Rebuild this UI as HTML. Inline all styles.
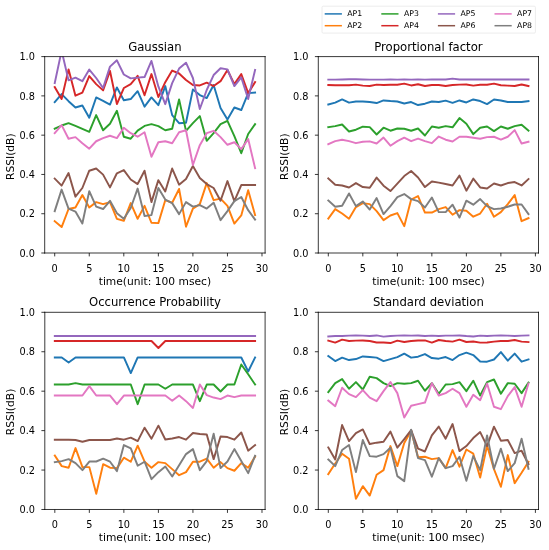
<!DOCTYPE html>
<html><head><meta charset="utf-8"><style>
html,body{margin:0;padding:0;background:#fff;width:549px;height:550px;overflow:hidden}
svg{display:block}
</style></head><body>
<svg width="549" height="550" viewBox="0 0 564.685714 565.714286" version="1.1"> <defs> <style type="text/css">*{stroke-linejoin: round; stroke-linecap: butt}</style> </defs> <g id="figure_1"> <g id="patch_1"> <path d="M 0 565.714286 L 564.685714 565.714286 L 564.685714 0 L 0 0 z " style="fill: #ffffff"/> </g> <g id="axes_1"> <g id="patch_2"> <path d="M 45.977143 260.228571 L 272.674286 260.228571 L 272.674286 58.217143 L 45.977143 58.217143 z " style="fill: #ffffff"/> </g> <g id="matplotlib.axis_1"> <g id="xtick_1"> <g id="line2d_1"> <g> <path d="M 0 0 L 0 3.5 " transform="translate(56.281558 260.228571)" style="stroke: #000000; stroke-width: 0.8"/> </g> </g> <g id="text_1"> <text style="font-size: 10px; font-family: 'DejaVu Sans', 'Liberation Sans', sans-serif; text-anchor: middle" x="56.281558" y="279.627009" transform="rotate(-0 56.281558 279.627009)">0</text> </g> </g> <g id="xtick_2"> <g id="line2d_2"> <g> <path d="M 0 0 L 0 3.5 " transform="translate(91.814026 260.228571)" style="stroke: #000000; stroke-width: 0.8"/> </g> </g> <g id="text_2"> <text style="font-size: 10px; font-family: 'DejaVu Sans', 'Liberation Sans', sans-serif; text-anchor: middle" x="91.814026" y="279.627009" transform="rotate(-0 91.814026 279.627009)">5</text> </g> </g> <g id="xtick_3"> <g id="line2d_3"> <g> <path d="M 0 0 L 0 3.5 " transform="translate(127.346494 260.228571)" style="stroke: #000000; stroke-width: 0.8"/> </g> </g> <g id="text_3"> <text style="font-size: 10px; font-family: 'DejaVu Sans', 'Liberation Sans', sans-serif; text-anchor: middle" x="127.346494" y="279.627009" transform="rotate(-0 127.346494 279.627009)">10</text> </g> </g> <g id="xtick_4"> <g id="line2d_4"> <g> <path d="M 0 0 L 0 3.5 " transform="translate(162.878961 260.228571)" style="stroke: #000000; stroke-width: 0.8"/> </g> </g> <g id="text_4"> <text style="font-size: 10px; font-family: 'DejaVu Sans', 'Liberation Sans', sans-serif; text-anchor: middle" x="162.878961" y="279.627009" transform="rotate(-0 162.878961 279.627009)">15</text> </g> </g> <g id="xtick_5"> <g id="line2d_5"> <g> <path d="M 0 0 L 0 3.5 " transform="translate(198.411429 260.228571)" style="stroke: #000000; stroke-width: 0.8"/> </g> </g> <g id="text_5"> <text style="font-size: 10px; font-family: 'DejaVu Sans', 'Liberation Sans', sans-serif; text-anchor: middle" x="198.411429" y="279.627009" transform="rotate(-0 198.411429 279.627009)">20</text> </g> </g> <g id="xtick_6"> <g id="line2d_6"> <g> <path d="M 0 0 L 0 3.5 " transform="translate(233.943896 260.228571)" style="stroke: #000000; stroke-width: 0.8"/> </g> </g> <g id="text_6"> <text style="font-size: 10px; font-family: 'DejaVu Sans', 'Liberation Sans', sans-serif; text-anchor: middle" x="233.943896" y="279.627009" transform="rotate(-0 233.943896 279.627009)">25</text> </g> </g> <g id="xtick_7"> <g id="line2d_7"> <g> <path d="M 0 0 L 0 3.5 " transform="translate(269.476364 260.228571)" style="stroke: #000000; stroke-width: 0.8"/> </g> </g> <g id="text_7"> <text style="font-size: 10px; font-family: 'DejaVu Sans', 'Liberation Sans', sans-serif; text-anchor: middle" x="269.476364" y="279.627009" transform="rotate(-0 269.476364 279.627009)">30</text> </g> </g> <g id="text_8"> <text style="font-size: 11px; font-family: 'DejaVu Sans', 'Liberation Sans', sans-serif; text-anchor: middle" x="159.325714" y="292.864978" transform="rotate(-0 159.325714 292.864978)">time(unit: 100 msec)</text> </g> </g> <g id="matplotlib.axis_2"> <g id="ytick_1"> <g id="line2d_8"> <g> <path d="M 0 0 L -3.5 0 " transform="translate(45.977143 260.228571)" style="stroke: #000000; stroke-width: 0.8"/> </g> </g> <g id="text_9"> <text style="font-size: 10px; font-family: 'DejaVu Sans', 'Liberation Sans', sans-serif; text-anchor: end" x="35.877143" y="264.02779" transform="rotate(-0 35.877143 264.02779)">0.0</text> </g> </g> <g id="ytick_2"> <g id="line2d_9"> <g> <path d="M 0 0 L -3.5 0 " transform="translate(45.977143 219.826286)" style="stroke: #000000; stroke-width: 0.8"/> </g> </g> <g id="text_10"> <text style="font-size: 10px; font-family: 'DejaVu Sans', 'Liberation Sans', sans-serif; text-anchor: end" x="35.877143" y="223.625504" transform="rotate(-0 35.877143 223.625504)">0.2</text> </g> </g> <g id="ytick_3"> <g id="line2d_10"> <g> <path d="M 0 0 L -3.5 0 " transform="translate(45.977143 179.424)" style="stroke: #000000; stroke-width: 0.8"/> </g> </g> <g id="text_11"> <text style="font-size: 10px; font-family: 'DejaVu Sans', 'Liberation Sans', sans-serif; text-anchor: end" x="35.877143" y="183.223219" transform="rotate(-0 35.877143 183.223219)">0.4</text> </g> </g> <g id="ytick_4"> <g id="line2d_11"> <g> <path d="M 0 0 L -3.5 0 " transform="translate(45.977143 139.021714)" style="stroke: #000000; stroke-width: 0.8"/> </g> </g> <g id="text_12"> <text style="font-size: 10px; font-family: 'DejaVu Sans', 'Liberation Sans', sans-serif; text-anchor: end" x="35.877143" y="142.820933" transform="rotate(-0 35.877143 142.820933)">0.6</text> </g> </g> <g id="ytick_5"> <g id="line2d_12"> <g> <path d="M 0 0 L -3.5 0 " transform="translate(45.977143 98.619429)" style="stroke: #000000; stroke-width: 0.8"/> </g> </g> <g id="text_13"> <text style="font-size: 10px; font-family: 'DejaVu Sans', 'Liberation Sans', sans-serif; text-anchor: end" x="35.877143" y="102.418647" transform="rotate(-0 35.877143 102.418647)">0.8</text> </g> </g> <g id="ytick_6"> <g id="line2d_13"> <g> <path d="M 0 0 L -3.5 0 " transform="translate(45.977143 58.217143)" style="stroke: #000000; stroke-width: 0.8"/> </g> </g> <g id="text_14"> <text style="font-size: 10px; font-family: 'DejaVu Sans', 'Liberation Sans', sans-serif; text-anchor: end" x="35.877143" y="62.016362" transform="rotate(-0 35.877143 62.016362)">1.0</text> </g> </g> <g id="text_15"> <text style="font-size: 11px; font-family: 'DejaVu Sans', 'Liberation Sans', sans-serif; text-anchor: middle" x="14.5092" y="161.1771" transform="rotate(-90 14.5092 161.1771)">RSSI(dB)</text> </g> </g> <g id="line2d_14"> <path d="M 56.281558 105.083794 L 63.388052 96.801326 L 70.494545 104.073737 L 77.601039 110.538103 L 84.707532 108.517989 L 91.814026 121.042697 L 98.920519 100.23552 L 106.027013 103.669714 L 113.133506 107.507931 L 120.24 89.932937 L 127.346494 103.06368 L 134.452987 101.851611 L 141.559481 93.771154 L 148.665974 109.730057 L 155.772468 100.23552 L 162.878961 108.113966 L 169.985455 88.518857 L 177.091948 118.416549 L 184.198442 126.699017 L 191.304935 126.294994 L 198.411429 91.953051 L 205.517922 97.811383 L 212.624416 100.841554 L 219.730909 87.5088 L 226.837403 111.144137 L 233.943896 122.8608 L 241.05039 110.538103 L 248.156883 113.164251 L 255.263377 95.791269 L 262.36987 95.185234 " clip-path="url(#p74ebb552d3)" style="fill: none; stroke: #1f77b4; stroke-width: 2; stroke-linecap: square"/> </g> <g id="line2d_15"> <path d="M 56.281558 227.50272 L 63.388052 233.563063 L 70.494545 214.978011 L 77.601039 213.36192 L 84.707532 200.6352 L 91.814026 213.36192 L 98.920519 207.907611 L 106.027013 209.927726 L 113.133506 207.907611 L 120.24 225.078583 L 127.346494 227.098697 L 134.452987 208.917669 L 141.559481 225.078583 L 148.665974 211.745829 L 155.772468 229.118811 L 162.878961 229.522834 L 169.985455 205.887497 L 177.091948 208.513646 L 184.198442 194.372846 L 191.304935 233.15904 L 198.411429 214.573989 L 205.517922 209.927726 L 212.624416 188.312503 L 219.730909 205.887497 L 226.837403 204.271406 L 233.943896 211.745829 L 241.05039 229.926857 L 248.156883 221.644389 L 255.263377 195.584914 L 262.36987 221.240366 " clip-path="url(#p74ebb552d3)" style="fill: none; stroke: #ff7f0e; stroke-width: 2; stroke-linecap: square"/> </g> <g id="line2d_16"> <path d="M 56.281558 132.355337 L 63.388052 129.123154 L 70.494545 126.699017 L 77.601039 129.527177 L 84.707532 132.557349 L 91.814026 135.58752 L 98.920519 118.416549 L 106.027013 133.971429 L 113.133506 127.305051 L 120.24 113.972297 L 127.346494 140.637806 L 134.452987 142.65792 L 141.559481 134.375451 L 148.665974 129.527177 L 155.772468 127.709074 L 162.878961 129.729189 L 169.985455 133.971429 L 177.091948 132.355337 L 184.198442 102.255634 L 191.304935 134.577463 L 198.411429 126.699017 L 205.517922 119.426606 L 212.624416 144.880046 L 219.730909 137.0016 L 226.837403 127.709074 L 233.943896 124.27488 L 241.05039 140.031771 L 248.156883 157.606766 L 255.263377 137.809646 L 262.36987 127.709074 " clip-path="url(#p74ebb552d3)" style="fill: none; stroke: #2ca02c; stroke-width: 2; stroke-linecap: square"/> </g> <g id="line2d_17"> <path d="M 56.281558 89.528914 L 63.388052 101.851611 L 70.494545 71.347886 L 77.601039 98.417417 L 84.707532 95.185234 L 91.814026 78.216274 L 98.920519 86.498743 L 106.027013 92.963109 L 113.133506 72.963977 L 120.24 107.103909 L 127.346494 90.538971 L 134.452987 86.498743 L 141.559481 78.014263 L 148.665974 98.013394 L 155.772468 76.19616 L 162.878961 99.831497 L 169.985455 84.478629 L 177.091948 72.559954 L 184.198442 75.590126 L 191.304935 82.256503 L 198.411429 87.5088 L 205.517922 87.912823 L 212.624416 85.084663 L 219.730909 88.518857 L 226.837403 83.468571 L 233.943896 71.95392 L 241.05039 86.498743 L 248.156883 76.19616 L 255.263377 95.791269 L 262.36987 84.478629 " clip-path="url(#p74ebb552d3)" style="fill: none; stroke: #d62728; stroke-width: 2; stroke-linecap: square"/> </g> <g id="line2d_18"> <path d="M 56.281558 85.488686 L 63.388052 52.1568 L 70.494545 82.660526 L 77.601039 79.832366 L 84.707532 83.468571 L 91.814026 71.549897 L 98.920519 80.236389 L 106.027013 90.538971 L 113.133506 68.519726 L 120.24 62.05536 L 127.346494 76.600183 L 134.452987 80.640411 L 141.559481 79.832366 L 148.665974 79.226331 L 155.772468 62.661394 L 162.878961 88.92288 L 169.985455 107.103909 L 177.091948 85.488686 L 184.198442 70.53984 L 191.304935 64.479497 L 198.411429 80.236389 L 205.517922 112.154194 L 212.624416 92.559086 L 219.730909 77.206217 L 226.837403 70.135817 L 233.943896 71.347886 L 241.05039 88.518857 L 248.156883 79.630354 L 255.263377 101.851611 L 262.36987 71.95392 " clip-path="url(#p74ebb552d3)" style="fill: none; stroke: #9467bd; stroke-width: 2; stroke-linecap: square"/> </g> <g id="line2d_19"> <path d="M 56.281558 183.66624 L 63.388052 190.938651 L 70.494545 178.00992 L 77.601039 202.251291 L 84.707532 193.362789 L 91.814026 175.585783 L 98.920519 173.363657 L 106.027013 179.626011 L 113.133506 192.756754 L 120.24 178.211931 L 127.346494 174.979749 L 134.452987 184.676297 L 141.559481 189.32256 L 148.665974 175.585783 L 155.772468 207.907611 L 162.878961 185.282331 L 169.985455 196.998994 L 177.091948 173.363657 L 184.198442 189.928594 L 191.304935 184.070263 L 198.411429 170.737509 L 205.517922 183.060206 L 212.624416 189.32256 L 219.730909 193.362789 L 226.837403 206.493531 L 233.943896 186.292389 L 241.05039 206.897554 L 248.156883 190.332617 L 255.263377 190.332617 L 262.36987 190.332617 " clip-path="url(#p74ebb552d3)" style="fill: none; stroke: #8c564b; stroke-width: 2; stroke-linecap: square"/> </g> <g id="line2d_20"> <path d="M 56.281558 137.0016 L 63.388052 128.719131 L 70.494545 142.65792 L 77.601039 141.041829 L 84.707532 147.304183 L 91.814026 152.960503 L 98.920519 145.284069 L 106.027013 142.051886 L 113.133506 139.627749 L 120.24 142.051886 L 127.346494 131.34528 L 134.452987 137.0016 L 141.559481 140.637806 L 148.665974 135.991543 L 155.772468 161.242971 L 162.878961 146.294126 L 169.985455 145.284069 L 177.091948 147.304183 L 184.198442 135.991543 L 191.304935 133.971429 L 198.411429 169.727451 L 205.517922 149.324297 L 212.624416 137.0016 L 219.730909 134.577463 L 226.837403 141.041829 L 233.943896 148.920274 L 241.05039 146.294126 L 248.156883 153.364526 L 255.263377 143.061943 L 262.36987 172.959634 " clip-path="url(#p74ebb552d3)" style="fill: none; stroke: #e377c2; stroke-width: 2; stroke-linecap: square"/> </g> <g id="line2d_21"> <path d="M 56.281558 217.200137 L 63.388052 194.97888 L 70.494545 214.573989 L 77.601039 217.60416 L 84.707532 229.926857 L 91.814026 196.594971 L 98.920519 212.553874 L 106.027013 214.978011 L 113.133506 206.493531 L 120.24 219.220251 L 127.346494 225.078583 L 134.452987 213.967954 L 141.559481 193.968823 L 148.665974 222.250423 L 155.772468 221.240366 L 162.878961 193.362789 L 169.985455 205.281463 L 177.091948 208.917669 L 184.198442 220.230309 L 191.304935 207.907611 L 198.411429 212.553874 L 205.517922 210.937783 L 212.624416 214.573989 L 219.730909 208.513646 L 226.837403 226.492663 L 233.943896 217.200137 L 241.05039 206.897554 L 248.156883 202.655314 L 255.263377 216.19008 L 262.36987 225.886629 " clip-path="url(#p74ebb552d3)" style="fill: none; stroke: #7f7f7f; stroke-width: 2; stroke-linecap: square"/> </g> <g id="patch_3"> <path d="M 45.977143 260.228571 L 45.977143 58.217143 " style="fill: none; stroke: #000000; stroke-width: 0.8; stroke-linejoin: miter; stroke-linecap: square"/> </g> <g id="patch_4"> <path d="M 272.674286 260.228571 L 272.674286 58.217143 " style="fill: none; stroke: #000000; stroke-width: 0.8; stroke-linejoin: miter; stroke-linecap: square"/> </g> <g id="patch_5"> <path d="M 45.977143 260.228571 L 272.674286 260.228571 " style="fill: none; stroke: #000000; stroke-width: 0.8; stroke-linejoin: miter; stroke-linecap: square"/> </g> <g id="patch_6"> <path d="M 45.977143 58.217143 L 272.674286 58.217143 " style="fill: none; stroke: #000000; stroke-width: 0.8; stroke-linejoin: miter; stroke-linecap: square"/> </g> <g id="text_16"> <text style="font-size: 12px; font-family: 'DejaVu Sans', 'Liberation Sans', sans-serif; text-anchor: middle" x="159.325714" y="52.217143" transform="rotate(-0 159.325714 52.217143)">Gaussian</text> </g> </g> <g id="axes_2"> <g id="patch_7"> <path d="M 327.394286 260.228571 L 553.885714 260.228571 L 553.885714 58.217143 L 327.394286 58.217143 z " style="fill: #ffffff"/> </g> <g id="matplotlib.axis_3"> <g id="xtick_8"> <g id="line2d_22"> <g> <path d="M 0 0 L 0 3.5 " transform="translate(337.689351 260.228571)" style="stroke: #000000; stroke-width: 0.8"/> </g> </g> <g id="text_17"> <text style="font-size: 10px; font-family: 'DejaVu Sans', 'Liberation Sans', sans-serif; text-anchor: middle" x="337.689351" y="279.627009" transform="rotate(-0 337.689351 279.627009)">0</text> </g> </g> <g id="xtick_9"> <g id="line2d_23"> <g> <path d="M 0 0 L 0 3.5 " transform="translate(373.189575 260.228571)" style="stroke: #000000; stroke-width: 0.8"/> </g> </g> <g id="text_18"> <text style="font-size: 10px; font-family: 'DejaVu Sans', 'Liberation Sans', sans-serif; text-anchor: middle" x="373.189575" y="279.627009" transform="rotate(-0 373.189575 279.627009)">5</text> </g> </g> <g id="xtick_10"> <g id="line2d_24"> <g> <path d="M 0 0 L 0 3.5 " transform="translate(408.689798 260.228571)" style="stroke: #000000; stroke-width: 0.8"/> </g> </g> <g id="text_19"> <text style="font-size: 10px; font-family: 'DejaVu Sans', 'Liberation Sans', sans-serif; text-anchor: middle" x="408.689798" y="279.627009" transform="rotate(-0 408.689798 279.627009)">10</text> </g> </g> <g id="xtick_11"> <g id="line2d_25"> <g> <path d="M 0 0 L 0 3.5 " transform="translate(444.190022 260.228571)" style="stroke: #000000; stroke-width: 0.8"/> </g> </g> <g id="text_20"> <text style="font-size: 10px; font-family: 'DejaVu Sans', 'Liberation Sans', sans-serif; text-anchor: middle" x="444.190022" y="279.627009" transform="rotate(-0 444.190022 279.627009)">15</text> </g> </g> <g id="xtick_12"> <g id="line2d_26"> <g> <path d="M 0 0 L 0 3.5 " transform="translate(479.690246 260.228571)" style="stroke: #000000; stroke-width: 0.8"/> </g> </g> <g id="text_21"> <text style="font-size: 10px; font-family: 'DejaVu Sans', 'Liberation Sans', sans-serif; text-anchor: middle" x="479.690246" y="279.627009" transform="rotate(-0 479.690246 279.627009)">20</text> </g> </g> <g id="xtick_13"> <g id="line2d_27"> <g> <path d="M 0 0 L 0 3.5 " transform="translate(515.19047 260.228571)" style="stroke: #000000; stroke-width: 0.8"/> </g> </g> <g id="text_22"> <text style="font-size: 10px; font-family: 'DejaVu Sans', 'Liberation Sans', sans-serif; text-anchor: middle" x="515.19047" y="279.627009" transform="rotate(-0 515.19047 279.627009)">25</text> </g> </g> <g id="xtick_14"> <g id="line2d_28"> <g> <path d="M 0 0 L 0 3.5 " transform="translate(550.690694 260.228571)" style="stroke: #000000; stroke-width: 0.8"/> </g> </g> <g id="text_23"> <text style="font-size: 10px; font-family: 'DejaVu Sans', 'Liberation Sans', sans-serif; text-anchor: middle" x="550.690694" y="279.627009" transform="rotate(-0 550.690694 279.627009)">30</text> </g> </g> <g id="text_24"> <text style="font-size: 11px; font-family: 'DejaVu Sans', 'Liberation Sans', sans-serif; text-anchor: middle" x="440.64" y="292.864978" transform="rotate(-0 440.64 292.864978)">time(unit: 100 msec)</text> </g> </g> <g id="matplotlib.axis_4"> <g id="ytick_7"> <g id="line2d_29"> <g> <path d="M 0 0 L -3.5 0 " transform="translate(327.394286 260.228571)" style="stroke: #000000; stroke-width: 0.8"/> </g> </g> <g id="text_25"> <text style="font-size: 10px; font-family: 'DejaVu Sans', 'Liberation Sans', sans-serif; text-anchor: end" x="317.294286" y="264.02779" transform="rotate(-0 317.294286 264.02779)">0.0</text> </g> </g> <g id="ytick_8"> <g id="line2d_30"> <g> <path d="M 0 0 L -3.5 0 " transform="translate(327.394286 219.826286)" style="stroke: #000000; stroke-width: 0.8"/> </g> </g> <g id="text_26"> <text style="font-size: 10px; font-family: 'DejaVu Sans', 'Liberation Sans', sans-serif; text-anchor: end" x="317.294286" y="223.625504" transform="rotate(-0 317.294286 223.625504)">0.2</text> </g> </g> <g id="ytick_9"> <g id="line2d_31"> <g> <path d="M 0 0 L -3.5 0 " transform="translate(327.394286 179.424)" style="stroke: #000000; stroke-width: 0.8"/> </g> </g> <g id="text_27"> <text style="font-size: 10px; font-family: 'DejaVu Sans', 'Liberation Sans', sans-serif; text-anchor: end" x="317.294286" y="183.223219" transform="rotate(-0 317.294286 183.223219)">0.4</text> </g> </g> <g id="ytick_10"> <g id="line2d_32"> <g> <path d="M 0 0 L -3.5 0 " transform="translate(327.394286 139.021714)" style="stroke: #000000; stroke-width: 0.8"/> </g> </g> <g id="text_28"> <text style="font-size: 10px; font-family: 'DejaVu Sans', 'Liberation Sans', sans-serif; text-anchor: end" x="317.294286" y="142.820933" transform="rotate(-0 317.294286 142.820933)">0.6</text> </g> </g> <g id="ytick_11"> <g id="line2d_33"> <g> <path d="M 0 0 L -3.5 0 " transform="translate(327.394286 98.619429)" style="stroke: #000000; stroke-width: 0.8"/> </g> </g> <g id="text_29"> <text style="font-size: 10px; font-family: 'DejaVu Sans', 'Liberation Sans', sans-serif; text-anchor: end" x="317.294286" y="102.418647" transform="rotate(-0 317.294286 102.418647)">0.8</text> </g> </g> <g id="ytick_12"> <g id="line2d_34"> <g> <path d="M 0 0 L -3.5 0 " transform="translate(327.394286 58.217143)" style="stroke: #000000; stroke-width: 0.8"/> </g> </g> <g id="text_30"> <text style="font-size: 10px; font-family: 'DejaVu Sans', 'Liberation Sans', sans-serif; text-anchor: end" x="317.294286" y="62.016362" transform="rotate(-0 317.294286 62.016362)">1.0</text> </g> </g> <g id="text_31"> <text style="font-size: 11px; font-family: 'DejaVu Sans', 'Liberation Sans', sans-serif; text-anchor: middle" x="295.9264" y="161.1771" transform="rotate(-90 295.9264 161.1771)">RSSI(dB)</text> </g> </g> <g id="line2d_35"> <path d="M 337.689351 107.447328 L 344.789395 105.588823 L 351.88944 102.296037 L 358.989485 105.588823 L 366.08953 104.356553 L 373.189575 104.356553 L 380.289619 104.982789 L 387.389664 106.013047 L 394.489709 103.326295 L 401.589754 103.95253 L 408.689798 104.356553 L 415.789843 106.41707 L 422.889888 104.982789 L 429.989933 108.073563 L 437.089978 106.639282 L 444.190022 104.356553 L 451.290067 104.982789 L 458.390112 103.528306 L 465.490157 105.811035 L 472.590202 103.326295 L 479.690246 105.386811 L 486.790291 102.296037 L 493.890336 103.95253 L 500.990381 107.043305 L 508.090425 102.296037 L 515.19047 103.326295 L 522.290515 104.982789 L 529.39056 104.982789 L 536.490605 104.982789 L 543.590649 103.95253 " clip-path="url(#pf7638f695a)" style="fill: none; stroke: #1f77b4; stroke-width: 2; stroke-linecap: square"/> </g> <g id="line2d_36"> <path d="M 337.689351 224.775566 L 344.789395 215.079017 L 351.88944 219.624274 L 358.989485 224.977577 L 366.08953 213.018501 L 373.189575 208.897467 L 380.289619 209.927726 L 387.389664 217.139534 L 394.489709 226.432059 L 401.589754 221.684791 L 408.689798 219.20005 L 415.789843 232.613609 L 422.889888 205.200658 L 429.989933 201.685659 L 437.089978 218.594016 L 444.190022 218.594016 L 451.290067 215.079017 L 458.390112 213.018501 L 465.490157 220.856544 L 472.590202 216.109275 L 479.690246 216.735511 L 486.790291 222.917061 L 493.890336 219.624274 L 500.990381 209.523703 L 508.090425 222.917061 L 515.19047 218.169792 L 522.290515 209.927726 L 529.39056 200.655401 L 536.490605 227.462318 L 543.590649 224.371543 " clip-path="url(#pf7638f695a)" style="fill: none; stroke: #ff7f0e; stroke-width: 2; stroke-linecap: square"/> </g> <g id="line2d_37"> <path d="M 337.689351 130.739246 L 344.789395 129.708987 L 351.88944 128.072695 L 358.989485 135.284503 L 366.08953 133.425998 L 373.189575 130.335223 L 380.289619 130.739246 L 387.389664 138.375278 L 394.489709 131.365481 L 401.589754 134.456256 L 408.689798 132.193728 L 415.789843 132.395739 L 422.889888 134.456256 L 429.989933 132.193728 L 437.089978 139.405536 L 444.190022 130.133211 L 451.290067 131.365481 L 458.390112 129.708987 L 465.490157 130.961458 L 472.590202 121.466921 L 479.690246 127.244448 L 486.790291 137.951054 L 493.890336 131.365481 L 500.990381 130.133211 L 508.090425 134.860279 L 515.19047 130.133211 L 522.290515 132.395739 L 529.39056 129.708987 L 536.490605 128.274706 L 543.590649 134.254245 " clip-path="url(#pf7638f695a)" style="fill: none; stroke: #2ca02c; stroke-width: 2; stroke-linecap: square"/> </g> <g id="line2d_38"> <path d="M 337.689351 87.468398 L 344.789395 87.670409 L 351.88944 87.670409 L 358.989485 87.670409 L 366.08953 87.044174 L 373.189575 88.074432 L 380.289619 88.498656 L 387.389664 87.044174 L 394.489709 87.468398 L 401.589754 87.246185 L 408.689798 87.246185 L 415.789843 86.013915 L 422.889888 87.872421 L 429.989933 86.640151 L 437.089978 88.498656 L 444.190022 87.468398 L 451.290067 87.468398 L 458.390112 88.498656 L 465.490157 87.468398 L 472.590202 87.044174 L 479.690246 86.842162 L 486.790291 88.074432 L 493.890336 87.246185 L 500.990381 87.246185 L 508.090425 86.013915 L 515.19047 87.670409 L 522.290515 88.074432 L 529.39056 88.498656 L 536.490605 86.842162 L 543.590649 88.498656 " clip-path="url(#pf7638f695a)" style="fill: none; stroke: #d62728; stroke-width: 2; stroke-linecap: square"/> </g> <g id="line2d_39"> <path d="M 337.689351 81.892882 L 344.789395 81.892882 L 351.88944 81.690871 L 358.989485 81.488859 L 366.08953 81.488859 L 373.189575 81.690871 L 380.289619 81.892882 L 387.389664 81.892882 L 394.489709 81.892882 L 401.589754 81.690871 L 408.689798 81.892882 L 415.789843 81.690871 L 422.889888 81.892882 L 429.989933 81.690871 L 437.089978 81.892882 L 444.190022 81.690871 L 451.290067 81.690871 L 458.390112 81.690871 L 465.490157 80.862624 L 472.590202 81.690871 L 479.690246 81.690871 L 486.790291 81.690871 L 493.890336 81.690871 L 500.990381 81.690871 L 508.090425 81.690871 L 515.19047 81.690871 L 522.290515 81.690871 L 529.39056 81.690871 L 536.490605 81.690871 L 543.590649 81.690871 " clip-path="url(#pf7638f695a)" style="fill: none; stroke: #9467bd; stroke-width: 2; stroke-linecap: square"/> </g> <g id="line2d_40"> <path d="M 337.689351 183.545033 L 344.789395 189.948795 L 351.88944 190.756841 L 358.989485 192.817358 L 366.08953 188.292302 L 373.189575 192.413335 L 380.289619 193.03957 L 387.389664 182.716786 L 394.489709 190.979054 L 401.589754 196.534368 L 408.689798 188.918537 L 415.789843 181.080494 L 422.889888 175.929202 L 429.989933 182.514775 L 437.089978 192.413335 L 444.190022 186.635808 L 451.290067 187.868078 L 458.390112 189.32256 L 465.490157 190.756841 L 472.590202 180.65627 L 479.690246 196.130345 L 486.790291 183.747045 L 493.890336 192.817358 L 500.990381 193.847616 L 508.090425 188.696325 L 515.19047 190.756841 L 522.290515 188.292302 L 529.39056 187.262043 L 536.490605 190.756841 L 543.590649 184.171269 " clip-path="url(#pf7638f695a)" style="fill: none; stroke: #8c564b; stroke-width: 2; stroke-linecap: square"/> </g> <g id="line2d_41"> <path d="M 337.689351 148.273838 L 344.789395 145.183063 L 351.88944 143.728581 L 358.989485 145.183063 L 366.08953 147.243579 L 373.189575 145.789097 L 380.289619 145.385074 L 387.389664 147.647602 L 394.489709 141.466053 L 401.589754 149.91013 L 408.689798 145.183063 L 415.789843 141.668064 L 422.889888 145.183063 L 429.989933 142.496311 L 437.089978 145.183063 L 444.190022 147.243579 L 451.290067 140.435794 L 458.390112 143.728581 L 465.490157 145.587086 L 472.590202 140.637806 L 479.690246 140.637806 L 486.790291 141.668064 L 493.890336 142.698322 L 500.990381 141.06203 L 508.090425 140.637806 L 515.19047 143.526569 L 522.290515 140.637806 L 529.39056 133.830021 L 536.490605 147.647602 L 543.590649 145.789097 " clip-path="url(#pf7638f695a)" style="fill: none; stroke: #e377c2; stroke-width: 2; stroke-linecap: square"/> </g> <g id="line2d_42"> <path d="M 337.689351 206.230917 L 344.789395 212.614478 L 351.88944 211.584219 L 358.989485 198.998907 L 366.08953 211.988242 L 373.189575 207.261175 L 380.289619 215.503241 L 387.389664 203.746176 L 394.489709 220.230309 L 401.589754 211.988242 L 408.689798 202.715918 L 415.789843 199.625143 L 422.889888 204.776434 L 429.989933 206.836951 L 437.089978 213.442725 L 444.190022 203.140142 L 451.290067 218.169792 L 458.390112 218.169792 L 465.490157 210.553961 L 472.590202 223.745307 L 479.690246 206.432928 L 486.790291 210.553961 L 493.890336 204.776434 L 500.990381 211.988242 L 508.090425 215.079017 L 515.19047 214.472983 L 522.290515 212.614478 L 529.39056 210.35195 L 536.490605 210.35195 L 543.590649 220.230309 " clip-path="url(#pf7638f695a)" style="fill: none; stroke: #7f7f7f; stroke-width: 2; stroke-linecap: square"/> </g> <g id="patch_8"> <path d="M 327.394286 260.228571 L 327.394286 58.217143 " style="fill: none; stroke: #000000; stroke-width: 0.8; stroke-linejoin: miter; stroke-linecap: square"/> </g> <g id="patch_9"> <path d="M 553.885714 260.228571 L 553.885714 58.217143 " style="fill: none; stroke: #000000; stroke-width: 0.8; stroke-linejoin: miter; stroke-linecap: square"/> </g> <g id="patch_10"> <path d="M 327.394286 260.228571 L 553.885714 260.228571 " style="fill: none; stroke: #000000; stroke-width: 0.8; stroke-linejoin: miter; stroke-linecap: square"/> </g> <g id="patch_11"> <path d="M 327.394286 58.217143 L 553.885714 58.217143 " style="fill: none; stroke: #000000; stroke-width: 0.8; stroke-linejoin: miter; stroke-linecap: square"/> </g> <g id="text_32"> <text style="font-size: 12px; font-family: 'DejaVu Sans', 'Liberation Sans', sans-serif; text-anchor: middle" x="440.64" y="52.217143" transform="rotate(-0 440.64 52.217143)">Proportional factor</text> </g> </g> <g id="axes_3"> <g id="patch_12"> <path d="M 46.08 524.057143 L 272.674286 524.057143 L 272.674286 321.222857 L 46.08 321.222857 z " style="fill: #ffffff"/> </g> <g id="matplotlib.axis_5"> <g id="xtick_15"> <g id="line2d_43"> <g> <path d="M 0 0 L 0 3.5 " transform="translate(56.37974 524.057143)" style="stroke: #000000; stroke-width: 0.8"/> </g> </g> <g id="text_33"> <text style="font-size: 10px; font-family: 'DejaVu Sans', 'Liberation Sans', sans-serif; text-anchor: middle" x="56.37974" y="543.45558" transform="rotate(-0 56.37974 543.45558)">0</text> </g> </g> <g id="xtick_16"> <g id="line2d_44"> <g> <path d="M 0 0 L 0 3.5 " transform="translate(91.896086 524.057143)" style="stroke: #000000; stroke-width: 0.8"/> </g> </g> <g id="text_34"> <text style="font-size: 10px; font-family: 'DejaVu Sans', 'Liberation Sans', sans-serif; text-anchor: middle" x="91.896086" y="543.45558" transform="rotate(-0 91.896086 543.45558)">5</text> </g> </g> <g id="xtick_17"> <g id="line2d_45"> <g> <path d="M 0 0 L 0 3.5 " transform="translate(127.412432 524.057143)" style="stroke: #000000; stroke-width: 0.8"/> </g> </g> <g id="text_35"> <text style="font-size: 10px; font-family: 'DejaVu Sans', 'Liberation Sans', sans-serif; text-anchor: middle" x="127.412432" y="543.45558" transform="rotate(-0 127.412432 543.45558)">10</text> </g> </g> <g id="xtick_18"> <g id="line2d_46"> <g> <path d="M 0 0 L 0 3.5 " transform="translate(162.928777 524.057143)" style="stroke: #000000; stroke-width: 0.8"/> </g> </g> <g id="text_36"> <text style="font-size: 10px; font-family: 'DejaVu Sans', 'Liberation Sans', sans-serif; text-anchor: middle" x="162.928777" y="543.45558" transform="rotate(-0 162.928777 543.45558)">15</text> </g> </g> <g id="xtick_19"> <g id="line2d_47"> <g> <path d="M 0 0 L 0 3.5 " transform="translate(198.445123 524.057143)" style="stroke: #000000; stroke-width: 0.8"/> </g> </g> <g id="text_37"> <text style="font-size: 10px; font-family: 'DejaVu Sans', 'Liberation Sans', sans-serif; text-anchor: middle" x="198.445123" y="543.45558" transform="rotate(-0 198.445123 543.45558)">20</text> </g> </g> <g id="xtick_20"> <g id="line2d_48"> <g> <path d="M 0 0 L 0 3.5 " transform="translate(233.961469 524.057143)" style="stroke: #000000; stroke-width: 0.8"/> </g> </g> <g id="text_38"> <text style="font-size: 10px; font-family: 'DejaVu Sans', 'Liberation Sans', sans-serif; text-anchor: middle" x="233.961469" y="543.45558" transform="rotate(-0 233.961469 543.45558)">25</text> </g> </g> <g id="xtick_21"> <g id="line2d_49"> <g> <path d="M 0 0 L 0 3.5 " transform="translate(269.477815 524.057143)" style="stroke: #000000; stroke-width: 0.8"/> </g> </g> <g id="text_39"> <text style="font-size: 10px; font-family: 'DejaVu Sans', 'Liberation Sans', sans-serif; text-anchor: middle" x="269.477815" y="543.45558" transform="rotate(-0 269.477815 543.45558)">30</text> </g> </g> <g id="text_40"> <text style="font-size: 11px; font-family: 'DejaVu Sans', 'Liberation Sans', sans-serif; text-anchor: middle" x="159.377143" y="556.693549" transform="rotate(-0 159.377143 556.693549)">time(unit: 100 msec)</text> </g> </g> <g id="matplotlib.axis_6"> <g id="ytick_13"> <g id="line2d_50"> <g> <path d="M 0 0 L -3.5 0 " transform="translate(46.08 524.057143)" style="stroke: #000000; stroke-width: 0.8"/> </g> </g> <g id="text_41"> <text style="font-size: 10px; font-family: 'DejaVu Sans', 'Liberation Sans', sans-serif; text-anchor: end" x="35.98" y="527.856362" transform="rotate(-0 35.98 527.856362)">0.0</text> </g> </g> <g id="ytick_14"> <g id="line2d_51"> <g> <path d="M 0 0 L -3.5 0 " transform="translate(46.08 483.490286)" style="stroke: #000000; stroke-width: 0.8"/> </g> </g> <g id="text_42"> <text style="font-size: 10px; font-family: 'DejaVu Sans', 'Liberation Sans', sans-serif; text-anchor: end" x="35.98" y="487.289504" transform="rotate(-0 35.98 487.289504)">0.2</text> </g> </g> <g id="ytick_15"> <g id="line2d_52"> <g> <path d="M 0 0 L -3.5 0 " transform="translate(46.08 442.923429)" style="stroke: #000000; stroke-width: 0.8"/> </g> </g> <g id="text_43"> <text style="font-size: 10px; font-family: 'DejaVu Sans', 'Liberation Sans', sans-serif; text-anchor: end" x="35.98" y="446.722647" transform="rotate(-0 35.98 446.722647)">0.4</text> </g> </g> <g id="ytick_16"> <g id="line2d_53"> <g> <path d="M 0 0 L -3.5 0 " transform="translate(46.08 402.356571)" style="stroke: #000000; stroke-width: 0.8"/> </g> </g> <g id="text_44"> <text style="font-size: 10px; font-family: 'DejaVu Sans', 'Liberation Sans', sans-serif; text-anchor: end" x="35.98" y="406.15579" transform="rotate(-0 35.98 406.15579)">0.6</text> </g> </g> <g id="ytick_17"> <g id="line2d_54"> <g> <path d="M 0 0 L -3.5 0 " transform="translate(46.08 361.789714)" style="stroke: #000000; stroke-width: 0.8"/> </g> </g> <g id="text_45"> <text style="font-size: 10px; font-family: 'DejaVu Sans', 'Liberation Sans', sans-serif; text-anchor: end" x="35.98" y="365.588933" transform="rotate(-0 35.98 365.588933)">0.8</text> </g> </g> <g id="ytick_18"> <g id="line2d_55"> <g> <path d="M 0 0 L -3.5 0 " transform="translate(46.08 321.222857)" style="stroke: #000000; stroke-width: 0.8"/> </g> </g> <g id="text_46"> <text style="font-size: 10px; font-family: 'DejaVu Sans', 'Liberation Sans', sans-serif; text-anchor: end" x="35.98" y="325.022076" transform="rotate(-0 35.98 325.022076)">1.0</text> </g> </g> <g id="text_47"> <text style="font-size: 11px; font-family: 'DejaVu Sans', 'Liberation Sans', sans-serif; text-anchor: middle" x="14.6121" y="423.7714" transform="rotate(-90 14.6121 423.7714)">RSSI(dB)</text> </g> </g> <g id="line2d_56"> <path d="M 56.37974 367.671909 L 63.483009 367.671909 L 70.586279 372.823899 L 77.689548 367.671909 L 84.792817 367.671909 L 91.896086 367.671909 L 98.999355 367.671909 L 106.102624 367.671909 L 113.205893 367.671909 L 120.309163 367.671909 L 127.412432 367.671909 L 134.515701 383.756667 L 141.61897 367.671909 L 148.722239 367.671909 L 155.825508 367.671909 L 162.928777 367.671909 L 170.032047 367.671909 L 177.135316 367.671909 L 184.238585 367.671909 L 191.341854 367.671909 L 198.445123 367.671909 L 205.548392 367.671909 L 212.651661 367.671909 L 219.754931 367.671909 L 226.8582 367.671909 L 233.961469 367.671909 L 241.064738 367.671909 L 248.168007 367.671909 L 255.271276 382.11371 L 262.374545 367.671909 " clip-path="url(#pcc40f3eca5)" style="fill: none; stroke: #1f77b4; stroke-width: 2; stroke-linecap: square"/> </g> <g id="line2d_57"> <path d="M 56.37974 468.521115 L 63.483009 479.4336 L 70.586279 481.096841 L 77.689548 460.894546 L 84.792817 480.468055 L 91.896086 480.468055 L 98.999355 507.89125 L 106.102624 477.384974 L 113.205893 481.096841 L 120.309163 481.50251 L 127.412432 470.772576 L 134.515701 474.910395 L 141.61897 458.419968 L 148.722239 474.910395 L 155.825508 481.096841 L 162.928777 475.316064 L 170.032047 476.350519 L 177.135316 482.536965 L 184.238585 488.72341 L 191.341854 485.620046 L 198.445123 474.910395 L 205.548392 474.910395 L 212.651661 471.807031 L 219.754931 481.096841 L 226.8582 475.316064 L 233.961469 481.50251 L 241.064738 484.179922 L 248.168007 476.350519 L 255.271276 481.096841 L 262.374545 469.758405 " clip-path="url(#pcc40f3eca5)" style="fill: none; stroke: #ff7f0e; stroke-width: 2; stroke-linecap: square"/> </g> <g id="line2d_58"> <path d="M 56.37974 395.500773 L 63.483009 395.500773 L 70.586279 395.500773 L 77.689548 394.060649 L 84.792817 395.500773 L 91.896086 395.500773 L 98.999355 395.500773 L 106.102624 395.500773 L 113.205893 395.500773 L 120.309163 395.500773 L 127.412432 395.500773 L 134.515701 395.500773 L 141.61897 415.703067 L 148.722239 395.500773 L 155.825508 395.500773 L 162.928777 395.500773 L 170.032047 399.841426 L 177.135316 395.500773 L 184.238585 395.500773 L 191.341854 395.500773 L 198.445123 395.500773 L 205.548392 412.619986 L 212.651661 395.500773 L 219.754931 395.500773 L 226.8582 402.721673 L 233.961469 395.500773 L 241.064738 395.500773 L 248.168007 374.892809 L 255.271276 384.993957 L 262.374545 395.500773 " clip-path="url(#pcc40f3eca5)" style="fill: none; stroke: #2ca02c; stroke-width: 2; stroke-linecap: square"/> </g> <g id="line2d_59"> <path d="M 56.37974 350.775813 L 63.483009 350.775813 L 70.586279 350.775813 L 77.689548 350.775813 L 84.792817 350.775813 L 91.896086 350.775813 L 98.999355 350.775813 L 106.102624 350.775813 L 113.205893 350.775813 L 120.309163 350.775813 L 127.412432 350.775813 L 134.515701 350.775813 L 141.61897 350.775813 L 148.722239 350.775813 L 155.825508 350.775813 L 162.928777 357.996713 L 170.032047 350.775813 L 177.135316 350.775813 L 184.238585 350.775813 L 191.341854 350.775813 L 198.445123 350.775813 L 205.548392 350.775813 L 212.651661 350.775813 L 219.754931 350.775813 L 226.8582 350.775813 L 233.961469 350.775813 L 241.064738 350.775813 L 248.168007 350.775813 L 255.271276 350.775813 L 262.374545 350.775813 " clip-path="url(#pcc40f3eca5)" style="fill: none; stroke: #d62728; stroke-width: 2; stroke-linecap: square"/> </g> <g id="line2d_60"> <path d="M 56.37974 345.623822 L 63.483009 345.623822 L 70.586279 345.623822 L 77.689548 345.623822 L 84.792817 345.623822 L 91.896086 345.623822 L 98.999355 345.623822 L 106.102624 345.623822 L 113.205893 345.623822 L 120.309163 345.623822 L 127.412432 345.623822 L 134.515701 345.623822 L 141.61897 345.623822 L 148.722239 345.623822 L 155.825508 345.623822 L 162.928777 345.623822 L 170.032047 345.623822 L 177.135316 345.623822 L 184.238585 345.623822 L 191.341854 345.623822 L 198.445123 345.623822 L 205.548392 345.623822 L 212.651661 345.623822 L 219.754931 345.623822 L 226.8582 345.623822 L 233.961469 345.623822 L 241.064738 345.623822 L 248.168007 345.623822 L 255.271276 345.623822 L 262.374545 345.623822 " clip-path="url(#pcc40f3eca5)" style="fill: none; stroke: #9467bd; stroke-width: 2; stroke-linecap: square"/> </g> <g id="line2d_61"> <path d="M 56.37974 452.233522 L 63.483009 452.233522 L 70.586279 452.233522 L 77.689548 452.639191 L 84.792817 454.302432 L 91.896086 452.639191 L 98.999355 452.639191 L 106.102624 452.639191 L 113.205893 452.639191 L 120.309163 450.996233 L 127.412432 452.233522 L 134.515701 450.164613 L 141.61897 453.673646 L 148.722239 439.860631 L 155.825508 451.199067 L 162.928777 437.812005 L 170.032047 452.030688 L 177.135316 450.996233 L 184.238585 449.55611 L 191.341854 452.233522 L 198.445123 445.438574 L 205.548392 446.452745 L 212.651661 446.878697 L 219.754931 472.232983 L 226.8582 448.927323 L 233.961469 449.55611 L 241.064738 452.233522 L 248.168007 444.809787 L 255.271276 463.571959 L 262.374545 457.791182 " clip-path="url(#pcc40f3eca5)" style="fill: none; stroke: #8c564b; stroke-width: 2; stroke-linecap: square"/> </g> <g id="line2d_62"> <path d="M 56.37974 406.839209 L 63.483009 406.839209 L 70.586279 406.839209 L 77.689548 406.839209 L 84.792817 406.839209 L 91.896086 397.164014 L 98.999355 406.839209 L 106.102624 406.839209 L 113.205893 406.839209 L 120.309163 415.703067 L 127.412432 406.839209 L 134.515701 406.839209 L 141.61897 406.839209 L 148.722239 406.839209 L 155.825508 406.839209 L 162.928777 406.839209 L 170.032047 406.839209 L 177.135316 412.194034 L 184.238585 406.839209 L 191.341854 412.619986 L 198.445123 419.597486 L 205.548392 395.500773 L 212.651661 406.433541 L 219.754931 408.908119 L 226.8582 410.551077 L 233.961469 406.839209 L 241.064738 408.482167 L 248.168007 406.839209 L 255.271276 406.839209 L 262.374545 406.839209 " clip-path="url(#pcc40f3eca5)" style="fill: none; stroke: #e377c2; stroke-width: 2; stroke-linecap: square"/> </g> <g id="line2d_63"> <path d="M 56.37974 475.316064 L 63.483009 474.281609 L 70.586279 472.232983 L 77.689548 476.350519 L 84.792817 483.571419 L 91.896086 474.707561 L 98.999355 474.707561 L 106.102624 471.807031 L 113.205893 474.910395 L 120.309163 484.585591 L 127.412432 457.791182 L 134.515701 461.300215 L 141.61897 479.027931 L 148.722239 474.910395 L 155.825508 492.840946 L 162.928777 485.620046 L 170.032047 479.859552 L 177.135316 490.163534 L 184.238585 478.419429 L 191.341854 467.080992 L 198.445123 461.929001 L 205.548392 483.571419 L 212.651661 474.281609 L 219.754931 446.047077 L 226.8582 481.50251 L 233.961469 474.707561 L 241.064738 461.929001 L 248.168007 474.281609 L 255.271276 486.654501 L 262.374545 468.72395 " clip-path="url(#pcc40f3eca5)" style="fill: none; stroke: #7f7f7f; stroke-width: 2; stroke-linecap: square"/> </g> <g id="patch_13"> <path d="M 46.08 524.057143 L 46.08 321.222857 " style="fill: none; stroke: #000000; stroke-width: 0.8; stroke-linejoin: miter; stroke-linecap: square"/> </g> <g id="patch_14"> <path d="M 272.674286 524.057143 L 272.674286 321.222857 " style="fill: none; stroke: #000000; stroke-width: 0.8; stroke-linejoin: miter; stroke-linecap: square"/> </g> <g id="patch_15"> <path d="M 46.08 524.057143 L 272.674286 524.057143 " style="fill: none; stroke: #000000; stroke-width: 0.8; stroke-linejoin: miter; stroke-linecap: square"/> </g> <g id="patch_16"> <path d="M 46.08 321.222857 L 272.674286 321.222857 " style="fill: none; stroke: #000000; stroke-width: 0.8; stroke-linejoin: miter; stroke-linecap: square"/> </g> <g id="text_48"> <text style="font-size: 12px; font-family: 'DejaVu Sans', 'Liberation Sans', sans-serif; text-anchor: middle" x="159.377143" y="315.222857" transform="rotate(-0 159.377143 315.222857)">Occurrence Probability</text> </g> </g> <g id="axes_4"> <g id="patch_17"> <path d="M 327.394286 524.057143 L 553.885714 524.057143 L 553.885714 321.222857 L 327.394286 321.222857 z " style="fill: #ffffff"/> </g> <g id="matplotlib.axis_7"> <g id="xtick_22"> <g id="line2d_64"> <g> <path d="M 0 0 L 0 3.5 " transform="translate(337.689351 524.057143)" style="stroke: #000000; stroke-width: 0.8"/> </g> </g> <g id="text_49"> <text style="font-size: 10px; font-family: 'DejaVu Sans', 'Liberation Sans', sans-serif; text-anchor: middle" x="337.689351" y="543.45558" transform="rotate(-0 337.689351 543.45558)">0</text> </g> </g> <g id="xtick_23"> <g id="line2d_65"> <g> <path d="M 0 0 L 0 3.5 " transform="translate(373.189575 524.057143)" style="stroke: #000000; stroke-width: 0.8"/> </g> </g> <g id="text_50"> <text style="font-size: 10px; font-family: 'DejaVu Sans', 'Liberation Sans', sans-serif; text-anchor: middle" x="373.189575" y="543.45558" transform="rotate(-0 373.189575 543.45558)">5</text> </g> </g> <g id="xtick_24"> <g id="line2d_66"> <g> <path d="M 0 0 L 0 3.5 " transform="translate(408.689798 524.057143)" style="stroke: #000000; stroke-width: 0.8"/> </g> </g> <g id="text_51"> <text style="font-size: 10px; font-family: 'DejaVu Sans', 'Liberation Sans', sans-serif; text-anchor: middle" x="408.689798" y="543.45558" transform="rotate(-0 408.689798 543.45558)">10</text> </g> </g> <g id="xtick_25"> <g id="line2d_67"> <g> <path d="M 0 0 L 0 3.5 " transform="translate(444.190022 524.057143)" style="stroke: #000000; stroke-width: 0.8"/> </g> </g> <g id="text_52"> <text style="font-size: 10px; font-family: 'DejaVu Sans', 'Liberation Sans', sans-serif; text-anchor: middle" x="444.190022" y="543.45558" transform="rotate(-0 444.190022 543.45558)">15</text> </g> </g> <g id="xtick_26"> <g id="line2d_68"> <g> <path d="M 0 0 L 0 3.5 " transform="translate(479.690246 524.057143)" style="stroke: #000000; stroke-width: 0.8"/> </g> </g> <g id="text_53"> <text style="font-size: 10px; font-family: 'DejaVu Sans', 'Liberation Sans', sans-serif; text-anchor: middle" x="479.690246" y="543.45558" transform="rotate(-0 479.690246 543.45558)">20</text> </g> </g> <g id="xtick_27"> <g id="line2d_69"> <g> <path d="M 0 0 L 0 3.5 " transform="translate(515.19047 524.057143)" style="stroke: #000000; stroke-width: 0.8"/> </g> </g> <g id="text_54"> <text style="font-size: 10px; font-family: 'DejaVu Sans', 'Liberation Sans', sans-serif; text-anchor: middle" x="515.19047" y="543.45558" transform="rotate(-0 515.19047 543.45558)">25</text> </g> </g> <g id="xtick_28"> <g id="line2d_70"> <g> <path d="M 0 0 L 0 3.5 " transform="translate(550.690694 524.057143)" style="stroke: #000000; stroke-width: 0.8"/> </g> </g> <g id="text_55"> <text style="font-size: 10px; font-family: 'DejaVu Sans', 'Liberation Sans', sans-serif; text-anchor: middle" x="550.690694" y="543.45558" transform="rotate(-0 550.690694 543.45558)">30</text> </g> </g> <g id="text_56"> <text style="font-size: 11px; font-family: 'DejaVu Sans', 'Liberation Sans', sans-serif; text-anchor: middle" x="440.64" y="556.693549" transform="rotate(-0 440.64 556.693549)">time(unit: 100 msec)</text> </g> </g> <g id="matplotlib.axis_8"> <g id="ytick_19"> <g id="line2d_71"> <g> <path d="M 0 0 L -3.5 0 " transform="translate(327.394286 524.057143)" style="stroke: #000000; stroke-width: 0.8"/> </g> </g> <g id="text_57"> <text style="font-size: 10px; font-family: 'DejaVu Sans', 'Liberation Sans', sans-serif; text-anchor: end" x="317.294286" y="527.856362" transform="rotate(-0 317.294286 527.856362)">0.0</text> </g> </g> <g id="ytick_20"> <g id="line2d_72"> <g> <path d="M 0 0 L -3.5 0 " transform="translate(327.394286 483.490286)" style="stroke: #000000; stroke-width: 0.8"/> </g> </g> <g id="text_58"> <text style="font-size: 10px; font-family: 'DejaVu Sans', 'Liberation Sans', sans-serif; text-anchor: end" x="317.294286" y="487.289504" transform="rotate(-0 317.294286 487.289504)">0.2</text> </g> </g> <g id="ytick_21"> <g id="line2d_73"> <g> <path d="M 0 0 L -3.5 0 " transform="translate(327.394286 442.923429)" style="stroke: #000000; stroke-width: 0.8"/> </g> </g> <g id="text_59"> <text style="font-size: 10px; font-family: 'DejaVu Sans', 'Liberation Sans', sans-serif; text-anchor: end" x="317.294286" y="446.722647" transform="rotate(-0 317.294286 446.722647)">0.4</text> </g> </g> <g id="ytick_22"> <g id="line2d_74"> <g> <path d="M 0 0 L -3.5 0 " transform="translate(327.394286 402.356571)" style="stroke: #000000; stroke-width: 0.8"/> </g> </g> <g id="text_60"> <text style="font-size: 10px; font-family: 'DejaVu Sans', 'Liberation Sans', sans-serif; text-anchor: end" x="317.294286" y="406.15579" transform="rotate(-0 317.294286 406.15579)">0.6</text> </g> </g> <g id="ytick_23"> <g id="line2d_75"> <g> <path d="M 0 0 L -3.5 0 " transform="translate(327.394286 361.789714)" style="stroke: #000000; stroke-width: 0.8"/> </g> </g> <g id="text_61"> <text style="font-size: 10px; font-family: 'DejaVu Sans', 'Liberation Sans', sans-serif; text-anchor: end" x="317.294286" y="365.588933" transform="rotate(-0 317.294286 365.588933)">0.8</text> </g> </g> <g id="ytick_24"> <g id="line2d_76"> <g> <path d="M 0 0 L -3.5 0 " transform="translate(327.394286 321.222857)" style="stroke: #000000; stroke-width: 0.8"/> </g> </g> <g id="text_62"> <text style="font-size: 10px; font-family: 'DejaVu Sans', 'Liberation Sans', sans-serif; text-anchor: end" x="317.294286" y="325.022076" transform="rotate(-0 317.294286 325.022076)">1.0</text> </g> </g> <g id="text_63"> <text style="font-size: 11px; font-family: 'DejaVu Sans', 'Liberation Sans', sans-serif; text-anchor: middle" x="295.9264" y="423.7714" transform="rotate(-90 295.9264 423.7714)">RSSI(dB)</text> </g> </g> <g id="line2d_77"> <path d="M 337.689351 366.231785 L 344.789395 371.383776 L 351.88944 367.874743 L 358.989485 370.349321 L 366.08953 369.33515 L 373.189575 366.637454 L 380.289619 367.26624 L 387.389664 367.874743 L 394.489709 371.383776 L 401.589754 369.33515 L 408.689798 367.26624 L 415.789843 363.757207 L 422.889888 367.874743 L 429.989933 366.860571 L 437.089978 364.183159 L 444.190022 368.300695 L 451.290067 368.909198 L 458.390112 367.26624 L 465.490157 370.349321 L 472.590202 365.19733 L 479.690246 362.722752 L 486.790291 365.19733 L 493.890336 371.809728 L 500.990381 372.012562 L 508.090425 369.740818 L 515.19047 362.114249 L 522.290515 370.978107 L 529.39056 363.757207 L 536.490605 372.012562 L 543.590649 369.740818 " clip-path="url(#p78410858d6)" style="fill: none; stroke: #1f77b4; stroke-width: 2; stroke-linecap: square"/> </g> <g id="line2d_78"> <path d="M 337.689351 487.688955 L 344.789395 476.756187 L 351.88944 466.65504 L 358.989485 471.807031 L 366.08953 513.043241 L 373.189575 500.061847 L 380.289619 509.737042 L 387.389664 488.297458 L 394.489709 483.571419 L 401.589754 458.825637 L 408.689798 479.4336 L 415.789843 455.742555 L 422.889888 442.963995 L 429.989933 470.164073 L 437.089978 469.758405 L 444.190022 472.232983 L 451.290067 471.198528 L 458.390112 481.50251 L 465.490157 462.943173 L 472.590202 480.062386 L 479.690246 462.33467 L 486.790291 466.65504 L 493.890336 491.197989 L 500.990381 458.419968 L 508.090425 482.536965 L 515.19047 500.67035 L 522.290515 468.095163 L 529.39056 496.958482 L 536.490605 486.248832 L 543.590649 474.910395 " clip-path="url(#p78410858d6)" style="fill: none; stroke: #ff7f0e; stroke-width: 2; stroke-linecap: square"/> </g> <g id="line2d_79"> <path d="M 337.689351 403.330176 L 344.789395 394.060649 L 351.88944 389.943113 L 358.989485 399.841426 L 366.08953 393.026194 L 373.189575 400.652763 L 380.289619 387.468535 L 387.389664 388.908658 L 394.489709 394.060649 L 401.589754 397.164014 L 408.689798 394.060649 L 415.789843 394.689435 L 422.889888 394.060649 L 429.989933 391.586071 L 437.089978 401.890053 L 444.190022 394.060649 L 451.290067 404.993417 L 458.390112 395.500773 L 465.490157 395.095104 L 472.590202 393.026194 L 479.690246 402.316005 L 486.790291 391.586071 L 493.890336 406.839209 L 500.990381 393.026194 L 508.090425 390.348782 L 515.19047 404.993417 L 522.290515 394.060649 L 529.39056 394.689435 L 536.490605 404.364631 L 543.590649 393.452146 " clip-path="url(#p78410858d6)" style="fill: none; stroke: #2ca02c; stroke-width: 2; stroke-linecap: square"/> </g> <g id="line2d_80"> <path d="M 337.689351 350.370144 L 344.789395 352.41877 L 351.88944 349.335689 L 358.989485 350.775813 L 366.08953 350.370144 L 373.189575 350.16731 L 380.289619 350.775813 L 387.389664 352.215936 L 394.489709 352.215936 L 401.589754 352.844722 L 408.689798 350.370144 L 415.789843 351.810267 L 422.889888 350.775813 L 429.989933 350.16731 L 437.089978 350.16731 L 444.190022 352.41877 L 451.290067 349.741358 L 458.390112 350.775813 L 465.490157 351.384315 L 472.590202 349.335689 L 479.690246 351.810267 L 486.790291 351.181481 L 493.890336 352.41877 L 500.990381 352.215936 L 508.090425 351.384315 L 515.19047 350.775813 L 522.290515 350.775813 L 529.39056 349.741358 L 536.490605 351.384315 L 543.590649 351.810267 " clip-path="url(#p78410858d6)" style="fill: none; stroke: #d62728; stroke-width: 2; stroke-linecap: square"/> </g> <g id="line2d_81"> <path d="M 337.689351 346.02949 L 344.789395 345.623822 L 351.88944 345.623822 L 358.989485 345.218153 L 366.08953 344.995035 L 373.189575 345.218153 L 380.289619 345.623822 L 387.389664 344.995035 L 394.489709 346.232325 L 401.589754 345.623822 L 408.689798 345.218153 L 415.789843 344.995035 L 422.889888 345.218153 L 429.989933 344.995035 L 437.089978 345.623822 L 444.190022 345.218153 L 451.290067 345.623822 L 458.390112 345.218153 L 465.490157 345.218153 L 472.590202 344.995035 L 479.690246 345.623822 L 486.790291 346.02949 L 493.890336 345.218153 L 500.990381 345.623822 L 508.090425 345.218153 L 515.19047 344.995035 L 522.290515 345.218153 L 529.39056 345.623822 L 536.490605 345.218153 L 543.590649 344.995035 " clip-path="url(#p78410858d6)" style="fill: none; stroke: #9467bd; stroke-width: 2; stroke-linecap: square"/> </g> <g id="line2d_82"> <path d="M 337.689351 460.26576 L 344.789395 472.638651 L 351.88944 437.183218 L 358.989485 453.673646 L 366.08953 445.438574 L 373.189575 441.726706 L 380.289619 456.756727 L 387.389664 455.316603 L 394.489709 454.302432 L 401.589754 443.978167 L 408.689798 460.468594 L 415.789843 451.604736 L 422.889888 442.335209 L 429.989933 461.503049 L 437.089978 464.383296 L 444.190022 447.892869 L 451.290067 438.826176 L 458.390112 451.199067 L 465.490157 436.148763 L 472.590202 463.977627 L 479.690246 458.825637 L 486.790291 450.590565 L 493.890336 444.404119 L 500.990381 458.825637 L 508.090425 438.826176 L 515.19047 453.267977 L 522.290515 452.639191 L 529.39056 466.046537 L 536.490605 463.571959 L 543.590649 477.384974 " clip-path="url(#p78410858d6)" style="fill: none; stroke: #8c564b; stroke-width: 2; stroke-linecap: square"/> </g> <g id="line2d_83"> <path d="M 337.689351 411.9912 L 344.789395 417.771977 L 351.88944 398.806971 L 358.989485 405.399086 L 366.08953 408.482167 L 373.189575 401.28155 L 380.289619 408.908119 L 387.389664 412.619986 L 394.489709 402.316005 L 401.589754 393.026194 L 408.689798 404.364631 L 415.789843 429.516082 L 422.889888 417.346025 L 429.989933 415.703067 L 437.089978 414.06011 L 444.190022 394.060649 L 451.290067 406.839209 L 458.390112 404.364631 L 465.490157 399.841426 L 472.590202 404.364631 L 479.690246 418.38048 L 486.790291 406.027872 L 493.890336 411.585531 L 500.990381 394.466318 L 508.090425 418.38048 L 515.19047 420.855058 L 522.290515 407.467995 L 529.39056 398.178185 L 536.490605 418.38048 L 543.590649 394.466318 " clip-path="url(#p78410858d6)" style="fill: none; stroke: #e377c2; stroke-width: 2; stroke-linecap: square"/> </g> <g id="line2d_84"> <path d="M 337.689351 472.638651 L 344.789395 479.4336 L 351.88944 462.943173 L 358.989485 457.791182 L 366.08953 485.620046 L 373.189575 452.639191 L 380.289619 469.129618 L 387.389664 469.758405 L 394.489709 467.080992 L 401.589754 460.468594 L 408.689798 489.737582 L 415.789843 494.889573 L 422.889888 441.929541 L 429.989933 471.198528 L 437.089978 473.247154 L 444.190022 490.366368 L 451.290067 471.198528 L 458.390112 481.50251 L 465.490157 479.4336 L 472.590202 469.758405 L 479.690246 494.483904 L 486.790291 469.129618 L 493.890336 483.571419 L 500.990381 447.892869 L 508.090425 482.111013 L 515.19047 461.503049 L 522.290515 484.585591 L 529.39056 476.350519 L 536.490605 451.199067 L 543.590649 482.111013 " clip-path="url(#p78410858d6)" style="fill: none; stroke: #7f7f7f; stroke-width: 2; stroke-linecap: square"/> </g> <g id="patch_18"> <path d="M 327.394286 524.057143 L 327.394286 321.222857 " style="fill: none; stroke: #000000; stroke-width: 0.8; stroke-linejoin: miter; stroke-linecap: square"/> </g> <g id="patch_19"> <path d="M 553.885714 524.057143 L 553.885714 321.222857 " style="fill: none; stroke: #000000; stroke-width: 0.8; stroke-linejoin: miter; stroke-linecap: square"/> </g> <g id="patch_20"> <path d="M 327.394286 524.057143 L 553.885714 524.057143 " style="fill: none; stroke: #000000; stroke-width: 0.8; stroke-linejoin: miter; stroke-linecap: square"/> </g> <g id="patch_21"> <path d="M 327.394286 321.222857 L 553.885714 321.222857 " style="fill: none; stroke: #000000; stroke-width: 0.8; stroke-linejoin: miter; stroke-linecap: square"/> </g> <g id="text_64"> <text style="font-size: 12px; font-family: 'DejaVu Sans', 'Liberation Sans', sans-serif; text-anchor: middle" x="440.64" y="315.222857" transform="rotate(-0 440.64 315.222857)">Standard deviation</text> </g> </g> </g> <defs> <clipPath id="p74ebb552d3"> <rect x="45.977143" y="58.217143" width="226.697143" height="202.011429"/> </clipPath> <clipPath id="pf7638f695a"> <rect x="327.394286" y="58.217143" width="226.491429" height="202.011429"/> </clipPath> <clipPath id="pcc40f3eca5"> <rect x="46.08" y="321.222857" width="226.594286" height="202.834286"/> </clipPath> <clipPath id="p78410858d6"> <rect x="327.394286" y="321.222857" width="226.491429" height="202.834286"/> </clipPath> </defs> <g transform="scale(1.0285714285714285)">
<rect x="322.0" y="6.2" width="213.39999999999998" height="26.900000000000002" rx="1.2" fill="#fff" fill-opacity="0.8" stroke="#ececec" stroke-width="1"/>
<path d="M 324.7 13.9 L 341.9 13.9" stroke="#1f77b4" stroke-width="1.5" fill="none"/>
<text x="347.29999999999995" y="16.0" style="font-size:7.78px;font-family:'DejaVu Sans',sans-serif">AP1</text>
<path d="M 324.7 25.7 L 341.9 25.7" stroke="#ff7f0e" stroke-width="1.5" fill="none"/>
<text x="347.29999999999995" y="27.7" style="font-size:7.78px;font-family:'DejaVu Sans',sans-serif">AP2</text>
<path d="M 381.3 13.9 L 398.5 13.9" stroke="#2ca02c" stroke-width="1.5" fill="none"/>
<text x="403.9" y="16.0" style="font-size:7.78px;font-family:'DejaVu Sans',sans-serif">AP3</text>
<path d="M 381.3 25.7 L 398.5 25.7" stroke="#d62728" stroke-width="1.5" fill="none"/>
<text x="403.9" y="27.7" style="font-size:7.78px;font-family:'DejaVu Sans',sans-serif">AP4</text>
<path d="M 437.9 13.9 L 455.09999999999997 13.9" stroke="#9467bd" stroke-width="1.5" fill="none"/>
<text x="460.49999999999994" y="16.0" style="font-size:7.78px;font-family:'DejaVu Sans',sans-serif">AP5</text>
<path d="M 437.9 25.7 L 455.09999999999997 25.7" stroke="#8c564b" stroke-width="1.5" fill="none"/>
<text x="460.49999999999994" y="27.7" style="font-size:7.78px;font-family:'DejaVu Sans',sans-serif">AP6</text>
<path d="M 494.5 13.9 L 511.7 13.9" stroke="#e377c2" stroke-width="1.5" fill="none"/>
<text x="517.1" y="16.0" style="font-size:7.78px;font-family:'DejaVu Sans',sans-serif">AP7</text>
<path d="M 494.5 25.7 L 511.7 25.7" stroke="#7f7f7f" stroke-width="1.5" fill="none"/>
<text x="517.1" y="27.7" style="font-size:7.78px;font-family:'DejaVu Sans',sans-serif">AP8</text>
</g></svg> 
</body></html>
